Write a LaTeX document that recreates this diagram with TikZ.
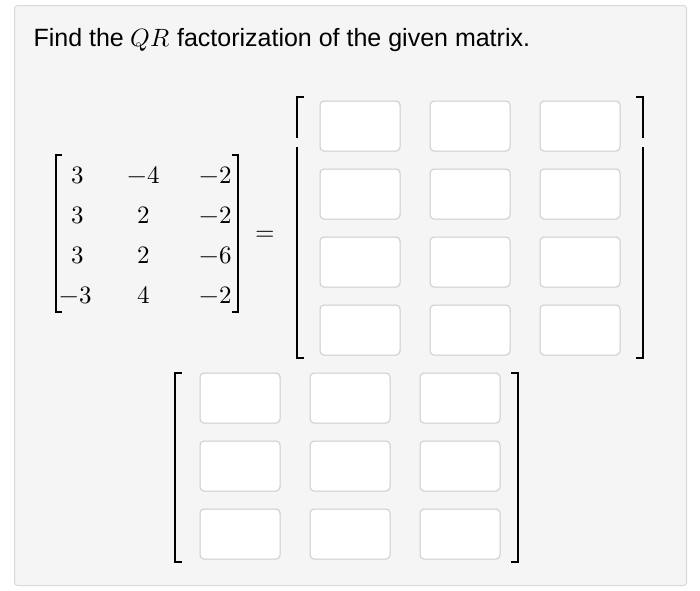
\documentclass[tikz,border=0pt]{standalone}
\usepackage{fontspec}
\setmainfont{Liberation Sans}
\usepackage{unicode-math}
\setmathfont{Latin Modern Math}
\begin{document}
\begin{tikzpicture}[x=1pt,y=-1pt,
  box/.style={draw=black!20,fill=white,rounded corners=4pt,line width=1pt,minimum width=80pt,minimum height=50pt,inner sep=0pt},
  ent/.style={font=\fontsize{25}{26}\selectfont,inner sep=0pt},
  brk/.style={line width=1.4pt}]
\useasboundingbox (0,0) rectangle (700,590);
\fill[white] (0,0) rectangle (700,590);
\node[draw=black!15,fill=black!4,line width=1pt,rounded corners=3pt,minimum width=672pt,minimum height=580pt,anchor=north west] (panel) at (14,5) {};
\node[anchor=west,font=\fontsize{25}{28}\selectfont] (title) at (30,40) {Find the $QR$ factorization of the given matrix.};
% left matrix
\node[ent,anchor=east] (a11) at (84,175) {$3$};
\node[ent,anchor=east] (a12) at (160,175) {$-4$};
\node[ent,anchor=east] (a13) at (232,175) {$-2$};
\node[ent,anchor=east] (a21) at (84,215) {$3$};
\node[ent,anchor=east] (a22) at (150,215) {$2$};
\node[ent,anchor=east] (a23) at (232,215) {$-2$};
\node[ent,anchor=east] (a31) at (84,255) {$3$};
\node[ent,anchor=east] (a32) at (150,255) {$2$};
\node[ent,anchor=east] (a33) at (232,255) {$-6$};
\node[ent,anchor=east] (a41) at (92,295) {$-3$};
\node[ent,anchor=east] (a42) at (150,295) {$4$};
\node[ent,anchor=east] (a43) at (232,295) {$-2$};
\draw[brk] (62,155) -- (56,155) -- (56,312) -- (62,312);
\draw[brk] (232,155) -- (238,155) -- (238,312) -- (232,312);
\node[ent] (eq) at (265,236) {$=$};
% Q
\foreach \i/\y in {1/126,2/194,3/262,4/330}{
  \foreach \j/\x in {1/360,2/470,3/580}{
    \node[box] (q\i\j) at (\x,\y) {};
  }
}
\draw[brk] (304,97) -- (297,97) -- (297,138);
\draw[brk] (297,147) -- (297,358) -- (304,358);
\draw[brk] (636,97) -- (643,97) -- (643,138);
\draw[brk] (643,147) -- (643,358) -- (636,358);
% R
\foreach \i/\y in {1/398,2/466,3/534}{
  \foreach \j/\x in {1/240,2/350,3/460}{
    \node[box] (r\i\j) at (\x,\y) {};
  }
}
\draw[brk] (182,373) -- (175,373) -- (175,562) -- (182,562);
\draw[brk] (511,373) -- (518,373) -- (518,562) -- (511,562);
\end{tikzpicture}
\end{document}
